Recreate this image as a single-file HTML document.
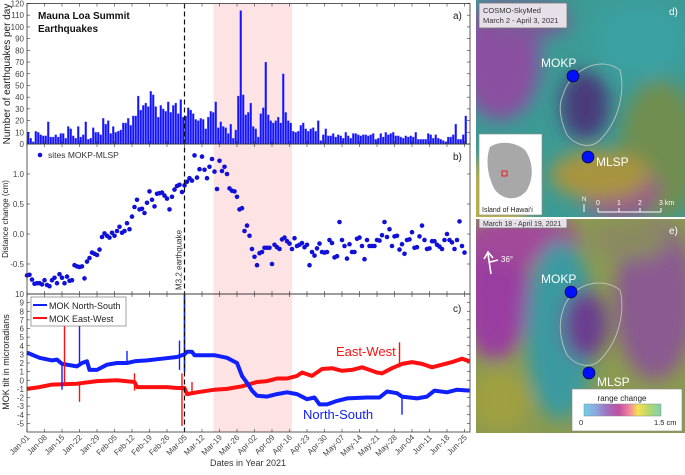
<!DOCTYPE html>
<html><head><meta charset="utf-8"><style>
html,body{margin:0;padding:0;background:#fff;}
body{width:685px;height:470px;overflow:hidden;font-family:"Liberation Sans",sans-serif;}
svg text{font-family:"Liberation Sans",sans-serif;}
</style></head><body>
<svg id="fig" width="685" height="470" viewBox="0 0 685 470" xmlns="http://www.w3.org/2000/svg">
<defs>
<filter id="blur8" x="-50%" y="-50%" width="200%" height="200%"><feGaussianBlur stdDeviation="9"/></filter>
<clipPath id="clipD"><rect x="476" y="0" width="209" height="217"/></clipPath>
<clipPath id="clipE"><rect x="476" y="219" width="209" height="214"/></clipPath>
<linearGradient id="cbar" x1="0" x2="1" y1="0" y2="0">
<stop offset="0" stop-color="#6fd0e8"/><stop offset="0.15" stop-color="#8aa8e0"/><stop offset="0.3" stop-color="#a070c0"/><stop offset="0.45" stop-color="#c050a0"/><stop offset="0.58" stop-color="#f080a0"/><stop offset="0.7" stop-color="#f8e050"/><stop offset="0.85" stop-color="#b0d870"/><stop offset="1" stop-color="#80d0b0"/></linearGradient>
</defs>
<g id="charts"></g>
<!-- Image d -->
<g clip-path="url(#clipD)">
<rect x="476" y="0" width="209" height="217" fill="#3c9a94"/>
<g filter="url(#blur8)">
<ellipse cx="500" cy="60" rx="40" ry="60" fill="#8a4fa0"/>
<ellipse cx="490" cy="200" rx="40" ry="40" fill="#b9b048"/>
<ellipse cx="640" cy="40" rx="50" ry="40" fill="#3aa0a0"/>
<ellipse cx="660" cy="150" rx="40" ry="70" fill="#6f8e50"/>
<ellipse cx="620" cy="190" rx="40" ry="30" fill="#9a5a88"/>
<ellipse cx="585" cy="105" rx="24" ry="35" fill="#4a3a7a"/>
<ellipse cx="600" cy="175" rx="50" ry="25" fill="#a89440"/>
<ellipse cx="530" cy="20" rx="40" ry="18" fill="#7a5a98"/>
</g>
<path d="M563,95 C570,70 600,55 620,70 C625,90 620,120 600,140 C590,150 575,145 567,135 C560,120 558,105 563,95Z" fill="none" stroke="#d8d8d0" stroke-width="1" opacity="0.7"/>
<rect x="479" y="3" width="88" height="25" fill="#e6e0e8" stroke="#777" stroke-width="0.8"/>
<text x="483" y="13" font-size="7.5" fill="#333">COSMO-SkyMed</text>
<text x="483" y="23" font-size="7.5" fill="#333">March 2 - April 3, 2021</text>
<text x="669" y="15" font-size="10" fill="#fff">d)</text>
<text x="541" y="67" font-size="12" fill="#fff">MOKP</text>
<circle cx="573" cy="76" r="6" fill="#0010ff" stroke="#000" stroke-width="0.6"/>
<text x="596" y="166" font-size="12" fill="#fff">MLSP</text>
<circle cx="588" cy="157" r="6" fill="#0010ff" stroke="#000" stroke-width="0.6"/>
<rect x="479" y="134" width="63" height="81" fill="#fff" stroke="#888" stroke-width="0.6"/>
<path d="M490,147 C500,140 515,142 525,150 C532,160 535,175 527,190 C520,200 505,202 495,190 C488,178 485,160 490,147Z" fill="#a8a8a8"/>
<rect x="502" y="171" width="5" height="5" fill="none" stroke="#e00" stroke-width="0.8"/>
<text x="482" y="212" font-size="7" fill="#222">Island of Hawai'i</text>
<text x="582" y="201" font-size="6" fill="#fff">N</text>
<line x1="584" y1="204" x2="584" y2="212" stroke="#fff" stroke-width="1"/>
<path d="M598,212 L661,212 M598,208 V212 M619,208 V212 M640,208 V212 M661,208 V212" stroke="#fff" stroke-width="1" fill="none"/>
<text x="596" y="205" font-size="7" fill="#fff">0</text><text x="617" y="205" font-size="7" fill="#fff">1</text><text x="638" y="205" font-size="7" fill="#fff">2</text><text x="659" y="205" font-size="7" fill="#fff">3 km</text>
</g>
<!-- Image e -->
<g clip-path="url(#clipE)">
<rect x="476" y="219" width="209" height="214" fill="#8a9a50"/>
<g filter="url(#blur8)">
<ellipse cx="495" cy="290" rx="35" ry="70" fill="#9a3ea0"/>
<ellipse cx="520" cy="240" rx="60" ry="25" fill="#a24a9a"/>
<ellipse cx="560" cy="330" rx="35" ry="90" fill="#3a9aa0"/>
<ellipse cx="655" cy="300" rx="40" ry="80" fill="#8a5a90"/>
<ellipse cx="630" cy="240" rx="40" ry="20" fill="#8a8a60"/>
<ellipse cx="585" cy="325" rx="22" ry="35" fill="#6a3c90"/>
<ellipse cx="500" cy="400" rx="30" ry="30" fill="#a0a040"/>
</g>
<path d="M563,310 C570,285 600,275 620,290 C625,310 620,340 600,360 C590,370 575,365 567,355 C560,340 558,325 563,310Z" fill="none" stroke="#d8d8d0" stroke-width="1" opacity="0.7"/>
<rect x="479" y="208" width="88" height="20" fill="#e6e0e8" stroke="#777" stroke-width="0.8"/>
<text x="483" y="226" font-size="7" fill="#333">March 18 - April 19, 2021</text>
<text x="669" y="234" font-size="10" fill="#fff">e)</text>
<path d="M491,274 L488,254 M484,259 L488,252 L493,258 M490,262 L498,260" stroke="#fff" stroke-width="1.6" fill="none"/>
<text x="501" y="262" font-size="8" fill="#fff">36°</text>
<text x="541" y="283" font-size="12" fill="#fff">MOKP</text>
<circle cx="571" cy="292" r="6" fill="#0010ff" stroke="#000" stroke-width="0.6"/>
<text x="597" y="386" font-size="12" fill="#fff">MLSP</text>
<circle cx="589" cy="373" r="6" fill="#0010ff" stroke="#000" stroke-width="0.6"/>
<rect x="572" y="389" width="110" height="42" fill="#fff" stroke="#888" stroke-width="0.6"/>
<text x="622" y="401" font-size="8" fill="#222" text-anchor="middle">range change</text>
<rect x="584" y="404" width="77" height="12" fill="url(#cbar)" stroke="#888" stroke-width="0.5"/>
<text x="579" y="425" font-size="7.5" fill="#222">0</text>
<text x="654" y="425" font-size="7.5" fill="#222">1.5 cm</text>
</g>
</svg>
<script>
// ---------- data ----------
const quakeCounts = [10,5,2,11,10,8,7,7,19,6,6,8,6,9,9,5,15,13,7,5,15,6,8,19,4,5,14,10,10,8,22,17,20,9,15,10,11,12,18,18,22,16,24,24,41,29,33,35,32,45,42,32,23,33,30,28,36,27,33,35,26,38,23,24,31,29,26,21,20,22,21,13,23,28,27,36,14,19,15,14,9,17,5,12,41,114,42,25,27,35,15,13,6,26,31,70,25,20,18,20,23,18,60,27,20,18,11,10,11,16,18,13,11,13,14,11,20,3,8,13,7,7,9,6,8,7,5,10,7,5,9,9,8,7,8,8,7,8,9,4,5,9,6,10,8,9,10,7,7,6,5,7,6,7,6,10,4,4,4,4,9,8,5,8,5,4,3,2,6,6,8,17,4,4,8,24];
const distValues = [-0.69,-0.68,-0.76,-0.83,-0.82,-0.82,-0.84,-0.77,-0.85,-0.87,-0.77,-0.73,-0.82,-0.67,-0.73,-0.82,-0.71,-0.78,-0.77,-0.52,-0.54,-0.55,-0.54,-0.74,-0.46,-0.4,-0.31,-0.33,-0.35,-0.26,-0.05,0.01,-0.03,-0.06,0.02,-0.03,0.05,0.12,0.02,0.05,0.18,0.08,0.29,0.45,0.57,0.41,0.42,0.35,0.52,0.71,0.57,0.46,0.67,0.68,0.69,0.64,0.59,0.41,0.62,0.74,0.8,0.82,0.7,0.81,0.87,0.93,0.89,1.31,0.94,1.08,1.29,1.07,0.93,1.12,1.25,1.04,0.75,1.22,1.05,1.12,1.0,0.76,0.72,0.71,0.62,0.41,0.43,0.05,0.14,-0.03,-0.25,-0.38,-0.52,-0.32,-0.3,-0.23,-0.23,-0.23,-0.5,-0.18,-0.22,-0.25,-0.09,-0.06,-0.12,-0.16,-0.25,-0.07,-0.2,-0.18,-0.15,-0.22,-0.18,-0.52,-0.3,-0.36,-0.24,-0.16,-0.3,-0.31,-0.3,-0.1,-0.15,-0.39,-0.37,0.2,-0.1,-0.2,-0.41,-0.17,-0.3,-0.3,-0.08,-0.06,-0.2,-0.42,-0.1,-0.2,-0.2,-0.2,-0.1,-0.11,-0.02,0.2,-0.05,0.08,-0.2,-0.04,-0.03,-0.26,-0.17,-0.33,-0.1,-0.09,0.03,-0.23,-0.22,-0.04,0.14,-0.1,-0.25,-0.24,-0.12,-0.12,-0.18,-0.21,-0.25,-0.1,0.0,-0.1,-0.14,-0.25,-0.1,0.21,-0.2,-0.31];
const nsDays = [0,5,10,12,14,20,22,24,25,28,32,36,40,43,48,54,60,62,63,64,66,67,75,80,84,86,88,90,92,96,100,104,108,112,115,117,120,124,128,136,141,144,148,150,156,160,163,168,172,177];
const nsTilt = [3.2,2.6,2.3,2.4,1.9,1.6,2.0,2.2,1.2,1.2,1.8,2.0,2.0,2.2,2.3,2.5,2.7,2.9,3.0,3.3,3.3,2.9,2.9,2.6,2.0,0.5,-0.3,-1.2,-1.8,-1.9,-1.6,-1.4,-1.6,-2.2,-2.0,-2.8,-2.8,-2.4,-2.1,-2.0,-2.0,-1.3,-1.5,-1.9,-2.1,-1.9,-1.2,-1.4,-1.1,-1.2];
const ewDays = [0,5,10,20,28,36,43,44,50,56,60,63,64,68,75,80,86,92,96,100,104,108,110,114,118,122,126,130,134,136,140,142,146,150,154,158,162,166,170,174,177];
const ewTilt = [-1.0,-0.8,-0.5,-0.4,-0.1,0,-0.2,-0.8,-0.8,-0.8,-0.9,-0.9,-1.6,-1.4,-1.1,-1.0,-0.7,-0.2,-0.1,0.2,0.2,0.5,0.9,0.5,1.3,1.4,1.1,1.2,1.5,1.3,0.9,0.8,1.4,1.9,2.1,1.9,1.5,1.8,2.1,2.5,2.2];
const nsSpikeDays = [14,21,40,61,150];
const nsSpikeLo = [-1.1,2.0,2.0,1.2,-4.0];
const nsSpikeHi = [1.9,6.9,3.4,4.6,-2.0];
const ewSpikeDays = [15,21,43,62,66,149];
const ewSpikeLo = [-0.3,-2.5,-1.2,-5.3,-1.4,1.5];
const ewSpikeHi = [6.8,-0.4,0.8,0.8,-0.2,4.4];
const dateLabels = ["Jan-01","Jan-08","Jan-15","Jan-22","Jan-29","Feb-05","Feb-12","Feb-19","Feb-26","Mar-05","Mar-12","Mar-19","Mar-26","Apr-02","Apr-09","Apr-16","Apr-23","Apr-30","May-07","May-14","May-21","May-28","Jun-04","Jun-11","Jun-18","Jun-25"];
const quakeTicks = [0,10,20,30,40,50,60,70,80,90,100,110,120];
const distTicks = [-0.5,0.0,0.5,1.0];
const distTickLabels = ["-0.5","0.0","0.5","1.0"];
const tiltTicks = [-5,-4,-3,-2,-1,0,1,2,3,4,5,6,7,8,9,10];
const quakeDay = 63;
const swarmStart = 74.6, swarmEnd = 106;

// ---------- axes ----------
const X0 = 27, X1 = 470, DAYMAX = 177.2;
const xS = d => X0 + d * (X1 - X0) / DAYMAX;
const A = {top:3.5,bot:144,min:0,max:120};
const B = {top:144,bot:294,min:-1,max:1.5};
const C = {top:294,bot:432,min:-6,max:10};
const yS = (P,v) => P.bot - (v - P.min) * (P.bot - P.top) / (P.max - P.min);

const NS = "http://www.w3.org/2000/svg";
const g = document.getElementById('charts');
function mk(tag, attrs, parent){const e=document.createElementNS(NS,tag);for(const k in attrs)e.setAttribute(k,attrs[k]);(parent||g).appendChild(e);return e;}

[A,B,C].forEach((P,i)=>{
  const r = mk('rect',{x:xS(swarmStart),y:P.top,width:xS(swarmEnd)-xS(swarmStart),height:P.bot-P.top,fill:'#fde3e3'});
  
  
});

const bw = (X1-X0)/DAYMAX;
quakeCounts.forEach((v,i)=>{
  const y = yS(A,v);
  const r = mk('rect',{x:xS(i)+0.15,y:y,width:bw-0.3,height:A.bot-y,fill:'#1414ff',stroke:'#8a8aff','stroke-width':0.3});
  
  
});

distValues.forEach((v,i)=>{
  const c = mk('circle',{cx:xS(i),cy:yS(B,v),r:2.3,fill:'#1010d8'});
  
  
});

function line(days, vals, color, name){
  const pts = days.map((d,i)=>xS(d).toFixed(1)+','+yS(C,vals[i]).toFixed(1)).join(' ');
  const p = mk('polyline',{points:pts,fill:'none',stroke:color,'stroke-width':4,'stroke-linejoin':'round'});
  
  
}
function spikes(days, lo, hi, color, name){
  days.forEach((d,i)=>{
    const l = mk('line',{x1:xS(d),x2:xS(d),y1:yS(C,lo[i]),y2:yS(C,hi[i]),stroke:color,'stroke-width':1.4});
    
    
  });
}
line(ewDays, ewTilt, '#ff1010', 'east-west-tilt-line');
line(nsDays, nsTilt, '#1020ff', 'north-south-tilt-line');
spikes(ewSpikeDays, ewSpikeLo, ewSpikeHi, '#ff1010', 'east-west-spike');
spikes(nsSpikeDays, nsSpikeLo, nsSpikeHi, '#1020ff', 'north-south-spike');
const nsq = mk('line',{x1:xS(quakeDay),x2:xS(quakeDay),y1:C.top,y2:yS(C,1),stroke:'#1020ff','stroke-width':1.6});



const dl = mk('line',{x1:xS(quakeDay),x2:xS(quakeDay),y1:A.top,y2:C.bot,stroke:'#111','stroke-width':1.2,'stroke-dasharray':'5,3'});


const dlt = mk('text',{x:0,y:0,'font-size':8,fill:'#333',transform:`translate(${xS(quakeDay)-3},${B.bot-4}) rotate(-90)`});
dlt.textContent='M3.2 earthquake';



[A,B,C].forEach(P=>{
  const f = mk('rect',{x:X0,y:P.top,width:X1-X0,height:P.bot-P.top,fill:'none',stroke:'#333','stroke-width':0.8});
  
  
  dateLabels.forEach((s,i)=>{
    const x = xS(i*7);
    mk('line',{x1:x,x2:x,y1:P.bot,y2:P.bot-3,stroke:'#333','stroke-width':0.6});
    mk('line',{x1:x,x2:x,y1:P.top,y2:P.top+3,stroke:'#333','stroke-width':0.6});
  });
});
function yticks(P, vals, labels, name){
  vals.forEach((v,i)=>{
    const y=yS(P,v);
    mk('line',{x1:X0,x2:X0+3,y1:y,y2:y,stroke:'#333','stroke-width':0.6});
    mk('line',{x1:X1,x2:X1-3,y1:y,y2:y,stroke:'#333','stroke-width':0.6});
    const t=mk('text',{x:X0-3,y:y+3,'font-size':8,'text-anchor':'end',fill:'#444'});
    t.textContent=labels[i];
    
    
  });
}
yticks(A, quakeTicks, quakeTicks.map(String), 'quake-y-tick');
yticks(B, distTicks, distTickLabels, 'distance-y-tick');
yticks(C, tiltTicks, tiltTicks.map(String), 'tilt-y-tick');
dateLabels.forEach((s,i)=>{
  const x=xS(i*7);
  const t=mk('text',{x:0,y:0,'font-size':8,'text-anchor':'end',fill:'#444',transform:`translate(${x+3},${C.bot+6}) rotate(-45)`});
  t.textContent=s;
  
  
});

function txt(x,y,s,opts,name){const t=mk('text',Object.assign({x:x,y:y},opts));t.textContent=s;return t;}
txt(0,0,'Number of earthquakes per day',{'font-size':10,fill:'#222','text-anchor':'middle',transform:'translate(10,74) rotate(-90)'},'quake-y-axis-title');
txt(0,0,'Distance change (cm)',{'font-size':8,fill:'#222','text-anchor':'middle',transform:'translate(8,219) rotate(-90)'},'distance-y-axis-title');
txt(0,0,'MOK tilt in microradians',{'font-size':9,fill:'#222','text-anchor':'middle',transform:'translate(9,362) rotate(-90)'},'tilt-y-axis-title');
txt(248,466,'Dates in Year 2021',{'font-size':9,fill:'#333','text-anchor':'middle'},'x-axis-title');
txt(38,19,'Mauna Loa Summit',{'font-size':10,'font-weight':'bold',fill:'#111'},'panel-a-title');
txt(38,32,'Earthquakes',{'font-size':10,'font-weight':'bold',fill:'#111'},'panel-a-title-2');
txt(453,19,'a)',{'font-size':10,fill:'#222'},'panel-a-label');
txt(453,160,'b)',{'font-size':10,fill:'#222'},'panel-b-label');
txt(453,312,'c)',{'font-size':10,fill:'#222'},'panel-c-label');
const lb=mk('circle',{cx:40,cy:155,r:2.3,fill:'#1010d8'});


txt(48,158,'sites MOKP-MLSP',{'font-size':8.5,fill:'#333'},'legend-distance');
const lg=mk('rect',{x:31,y:297,width:95,height:29,fill:'#fff',stroke:'#666','stroke-width':0.6});


mk('line',{x1:33,x2:47,y1:305,y2:305,stroke:'#1020ff','stroke-width':2});
mk('line',{x1:33,x2:47,y1:318,y2:318,stroke:'#ff1010','stroke-width':2});
txt(49,309,'MOK North-South',{'font-size':9,fill:'#222'},'legend-north-south');
txt(49,322,'MOK East-West',{'font-size':9,fill:'#222'},'legend-east-west');
txt(336,356,'East-West',{'font-size':13,fill:'#ff1010'},'east-west-annotation');
txt(303,419,'North-South',{'font-size':13,fill:'#1020ff'},'north-south-annotation');
</script>
</body></html>
